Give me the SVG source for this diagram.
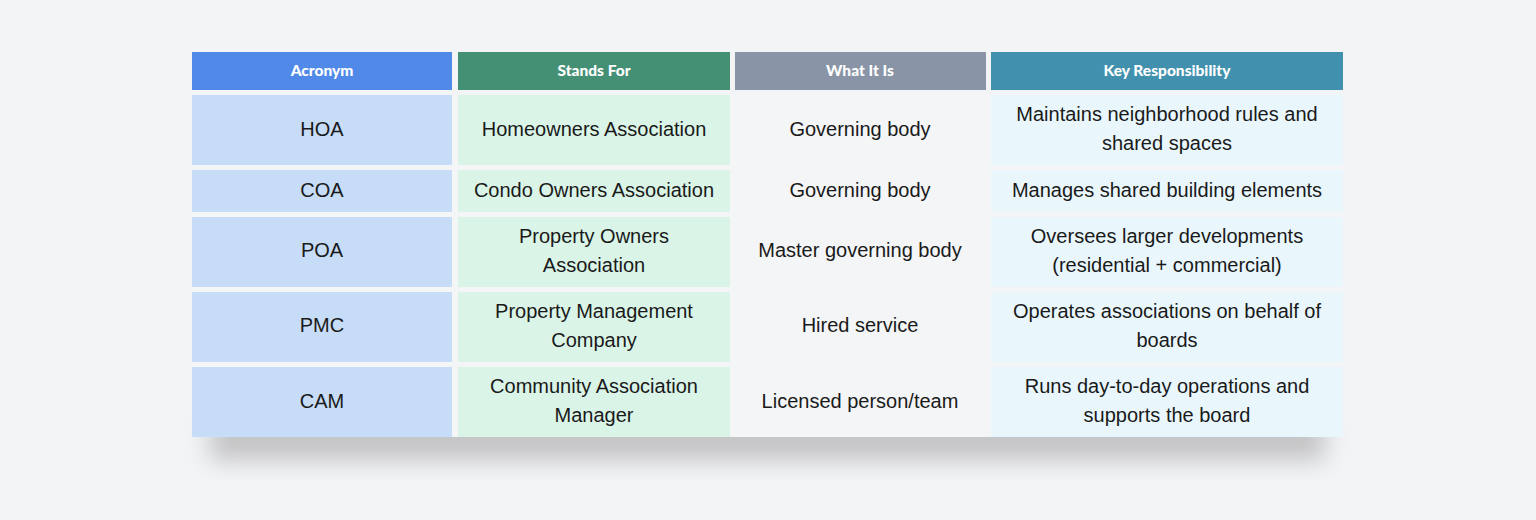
<svg xmlns="http://www.w3.org/2000/svg" width="1536" height="520" viewBox="0 0 1536 520">
<defs>
<filter id="sh" x="-10%" y="-50%" width="120%" height="200%"><feGaussianBlur stdDeviation="12"/></filter>
<style>
.h{font-family:Lato,sans-serif;font-weight:900;font-size:15.5px;fill:#fff;text-anchor:middle}
.t{font-family:'Liberation Sans',Arial,Helvetica,sans-serif;font-size:20px;fill:#1a1a1a;text-anchor:middle}
.c1{fill:#c6dcf7}.c2{fill:#daf5e8}.c3{fill:#f4f5f7}.c4{fill:#e9f7fd}
</style>
</defs>
<rect width="1536" height="520" fill="#f3f4f6"/>
<rect x="210" y="420" width="1115" height="40" fill="#9a9a9a" opacity="0.55" filter="url(#sh)"/>
<rect x="192" y="95" width="1151" height="342" fill="#f4f5f7"/>
<g id="header">
<rect x="192" y="52" width="260" height="38" fill="#5189e9"/><text class="h" x="322" y="76">Acronym</text>
<rect x="458" y="52" width="272" height="38" fill="#439074"/><text class="h" x="594" y="76">Stands For</text>
<rect x="735" y="52" width="251" height="38" fill="#8995a6"/><text class="h" x="860" y="76">What It Is</text>
<rect x="991" y="52" width="352" height="38" fill="#4191ae"/><text class="h" x="1167" y="76">Key Responsibility</text>
</g>
<g id="row-hoa">
<rect class="c1" x="192" y="95" width="260" height="70"/><rect class="c2" x="458" y="95" width="272" height="70"/><rect class="c3" x="735" y="95" width="251" height="70"/><rect class="c4" x="991" y="95" width="352" height="70"/>
<text class="t" x="322" y="136">HOA</text><text class="t" x="594" y="136">Homeowners Association</text><text class="t" x="860" y="136">Governing body</text>
<text class="t" x="1167" y="121">Maintains neighborhood rules and</text><text class="t" x="1167" y="150">shared spaces</text>
</g>
<g id="row-coa">
<rect class="c1" x="192" y="170" width="260" height="42"/><rect class="c2" x="458" y="170" width="272" height="42"/><rect class="c3" x="735" y="170" width="251" height="42"/><rect class="c4" x="991" y="170" width="352" height="42"/>
<text class="t" x="322" y="197">COA</text><text class="t" x="594" y="197">Condo Owners Association</text><text class="t" x="860" y="197">Governing body</text><text class="t" x="1167" y="197">Manages shared building elements</text>
</g>
<g id="row-poa">
<rect class="c1" x="192" y="217" width="260" height="70"/><rect class="c2" x="458" y="217" width="272" height="70"/><rect class="c3" x="735" y="217" width="251" height="70"/><rect class="c4" x="991" y="217" width="352" height="70"/>
<text class="t" x="322" y="257">POA</text><text class="t" x="594" y="243">Property Owners</text><text class="t" x="594" y="272">Association</text><text class="t" x="860" y="257">Master governing body</text>
<text class="t" x="1167" y="243">Oversees larger developments</text><text class="t" x="1167" y="272">(residential + commercial)</text>
</g>
<g id="row-pmc">
<rect class="c1" x="192" y="292" width="260" height="70"/><rect class="c2" x="458" y="292" width="272" height="70"/><rect class="c3" x="735" y="292" width="251" height="70"/><rect class="c4" x="991" y="292" width="352" height="70"/>
<text class="t" x="322" y="332">PMC</text><text class="t" x="594" y="318">Property Management</text><text class="t" x="594" y="347">Company</text><text class="t" x="860" y="332">Hired service</text>
<text class="t" x="1167" y="318">Operates associations on behalf of</text><text class="t" x="1167" y="347">boards</text>
</g>
<g id="row-cam">
<rect class="c1" x="192" y="367" width="260" height="70"/><rect class="c2" x="458" y="367" width="272" height="70"/><rect class="c3" x="735" y="367" width="251" height="70"/><rect class="c4" x="991" y="367" width="352" height="70"/>
<text class="t" x="322" y="408">CAM</text><text class="t" x="594" y="393">Community Association</text><text class="t" x="594" y="422">Manager</text><text class="t" x="860" y="408">Licensed person/team</text>
<text class="t" x="1167" y="393">Runs day-to-day operations and</text><text class="t" x="1167" y="422">supports the board</text>
</g>
<g id="connectors"/>
</svg>
